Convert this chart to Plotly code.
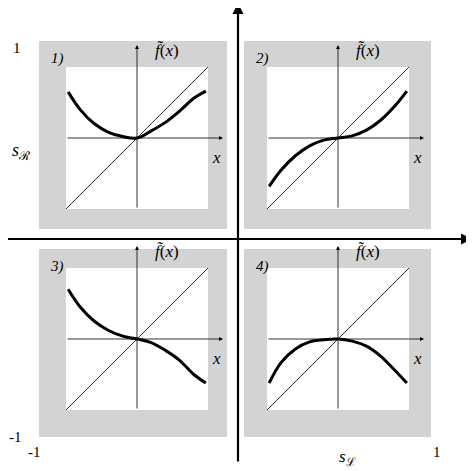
import plotly.graph_objects as go

# curve samples in each panel's local units (-1..1, y up)
curve_x = [-0.97, -0.8, -0.6, -0.4, -0.2, 0.0, 0.2, 0.4, 0.6, 0.8, 0.97]
curve1 = [0.65, 0.40, 0.20, 0.08, 0.02, 0.0, 0.10, 0.22, 0.38, 0.56, 0.66]
curve2 = [-0.68, -0.45, -0.25, -0.11, -0.03, 0.0, 0.03, 0.11, 0.25, 0.45, 0.66]
curve3 = [0.70, 0.45, 0.25, 0.12, 0.04, 0.0, -0.05, -0.16, -0.30, -0.50, -0.62]
curve4 = [-0.62, -0.33, -0.14, -0.04, -0.01, 0.0, -0.03, -0.10, -0.24, -0.44, -0.62]
panel_labels = ["1)", "2)", "3)", "4)"]

# panel centres in page pixels, half size of inner white box
centres = [(136, 137), (337, 137), (136, 338), (337, 338)]
grays = [(38, 40, 226, 228), (243, 40, 430, 228), (38, 248, 226, 436), (243, 248, 430, 436)]
H = 71
curves = [curve1, curve2, curve3, curve4]
SERIF = "Liberation Serif"
ARW = dict(xref="x", yref="y", axref="x", ayref="y", showarrow=True,
           arrowhead=2, arrowsize=1, arrowcolor="black", text="")

fig = go.Figure()
shapes, ann = [], []
for (cx, cy), (gx0, gy0, gx1, gy1), c, lab in zip(centres, grays, curves, panel_labels):
    shapes.append(dict(type="rect", x0=gx0, y0=gy0, x1=gx1, y1=gy1,
                       fillcolor="#d3d3d3", line=dict(width=0), layer="below"))
    shapes.append(dict(type="rect", x0=cx - H, y0=cy - H, x1=cx + H, y1=cy + H,
                       fillcolor="white", line=dict(width=0), layer="below"))
    shapes.append(dict(type="line", x0=cx - H, y0=cy + H, x1=cx + H, y1=cy - H,
                       line=dict(color="black", width=0.8)))
    ann.append(dict(ARW, x=cx, y=cy - 93, ax=cx, ay=cy + H, arrowwidth=0.8))
    ann.append(dict(ARW, x=cx + 86, y=cy, ax=cx - H, ay=cy, arrowwidth=0.8))
    ann.append(dict(x=cx + 30, y=cy - 88, text="<i>f̃</i>(<i>x</i>)", showarrow=False,
                    font=dict(family=SERIF, size=17, color="black")))
    ann.append(dict(x=cx + 79, y=cy + 19, text="<i>x</i>", showarrow=False,
                    font=dict(family=SERIF, size=17, color="black")))
    ann.append(dict(x=gx0 + 18, y=gy0 + 17, text="<i>" + lab + "</i>", showarrow=False,
                    font=dict(family=SERIF, size=15, color="black")))
    fig.add_trace(go.Scatter(x=[cx + v * H for v in curve_x], y=[cy - v * H for v in c],
                             mode="lines", line=dict(color="black", width=3, shape="spline"),
                             hoverinfo="skip"))

# main axes
ann.append(dict(ARW, x=237, y=2, ax=237, ay=462, arrowwidth=2.2))
ann.append(dict(ARW, x=471, y=238, ax=5, ay=238, arrowwidth=2.2))
for x, y, t in [(16, 47, "1"), (14, 436, "-1"), (33, 451, "-1"), (436, 451, "1")]:
    ann.append(dict(x=x, y=y, text=t, showarrow=False,
                    font=dict(family=SERIF, size=15, color="black")))
ann.append(dict(x=20, y=150, text="<i>s</i><sub>ℛ</sub>", showarrow=False,
                font=dict(family=SERIF, size=18, color="black")))
ann.append(dict(x=346, y=457, text="<i>s</i><sub>ℒ</sub>", showarrow=False,
                font=dict(family=SERIF, size=17, color="black")))

fig.update_layout(
    width=474, height=471, margin=dict(l=0, r=0, t=0, b=0),
    paper_bgcolor="white", plot_bgcolor="white", showlegend=False,
    xaxis=dict(range=[7, 481], visible=False, fixedrange=True),
    yaxis=dict(range=[478, 7], visible=False, fixedrange=True),
    shapes=shapes, annotations=ann,
)
fig.write_html("out.html")
